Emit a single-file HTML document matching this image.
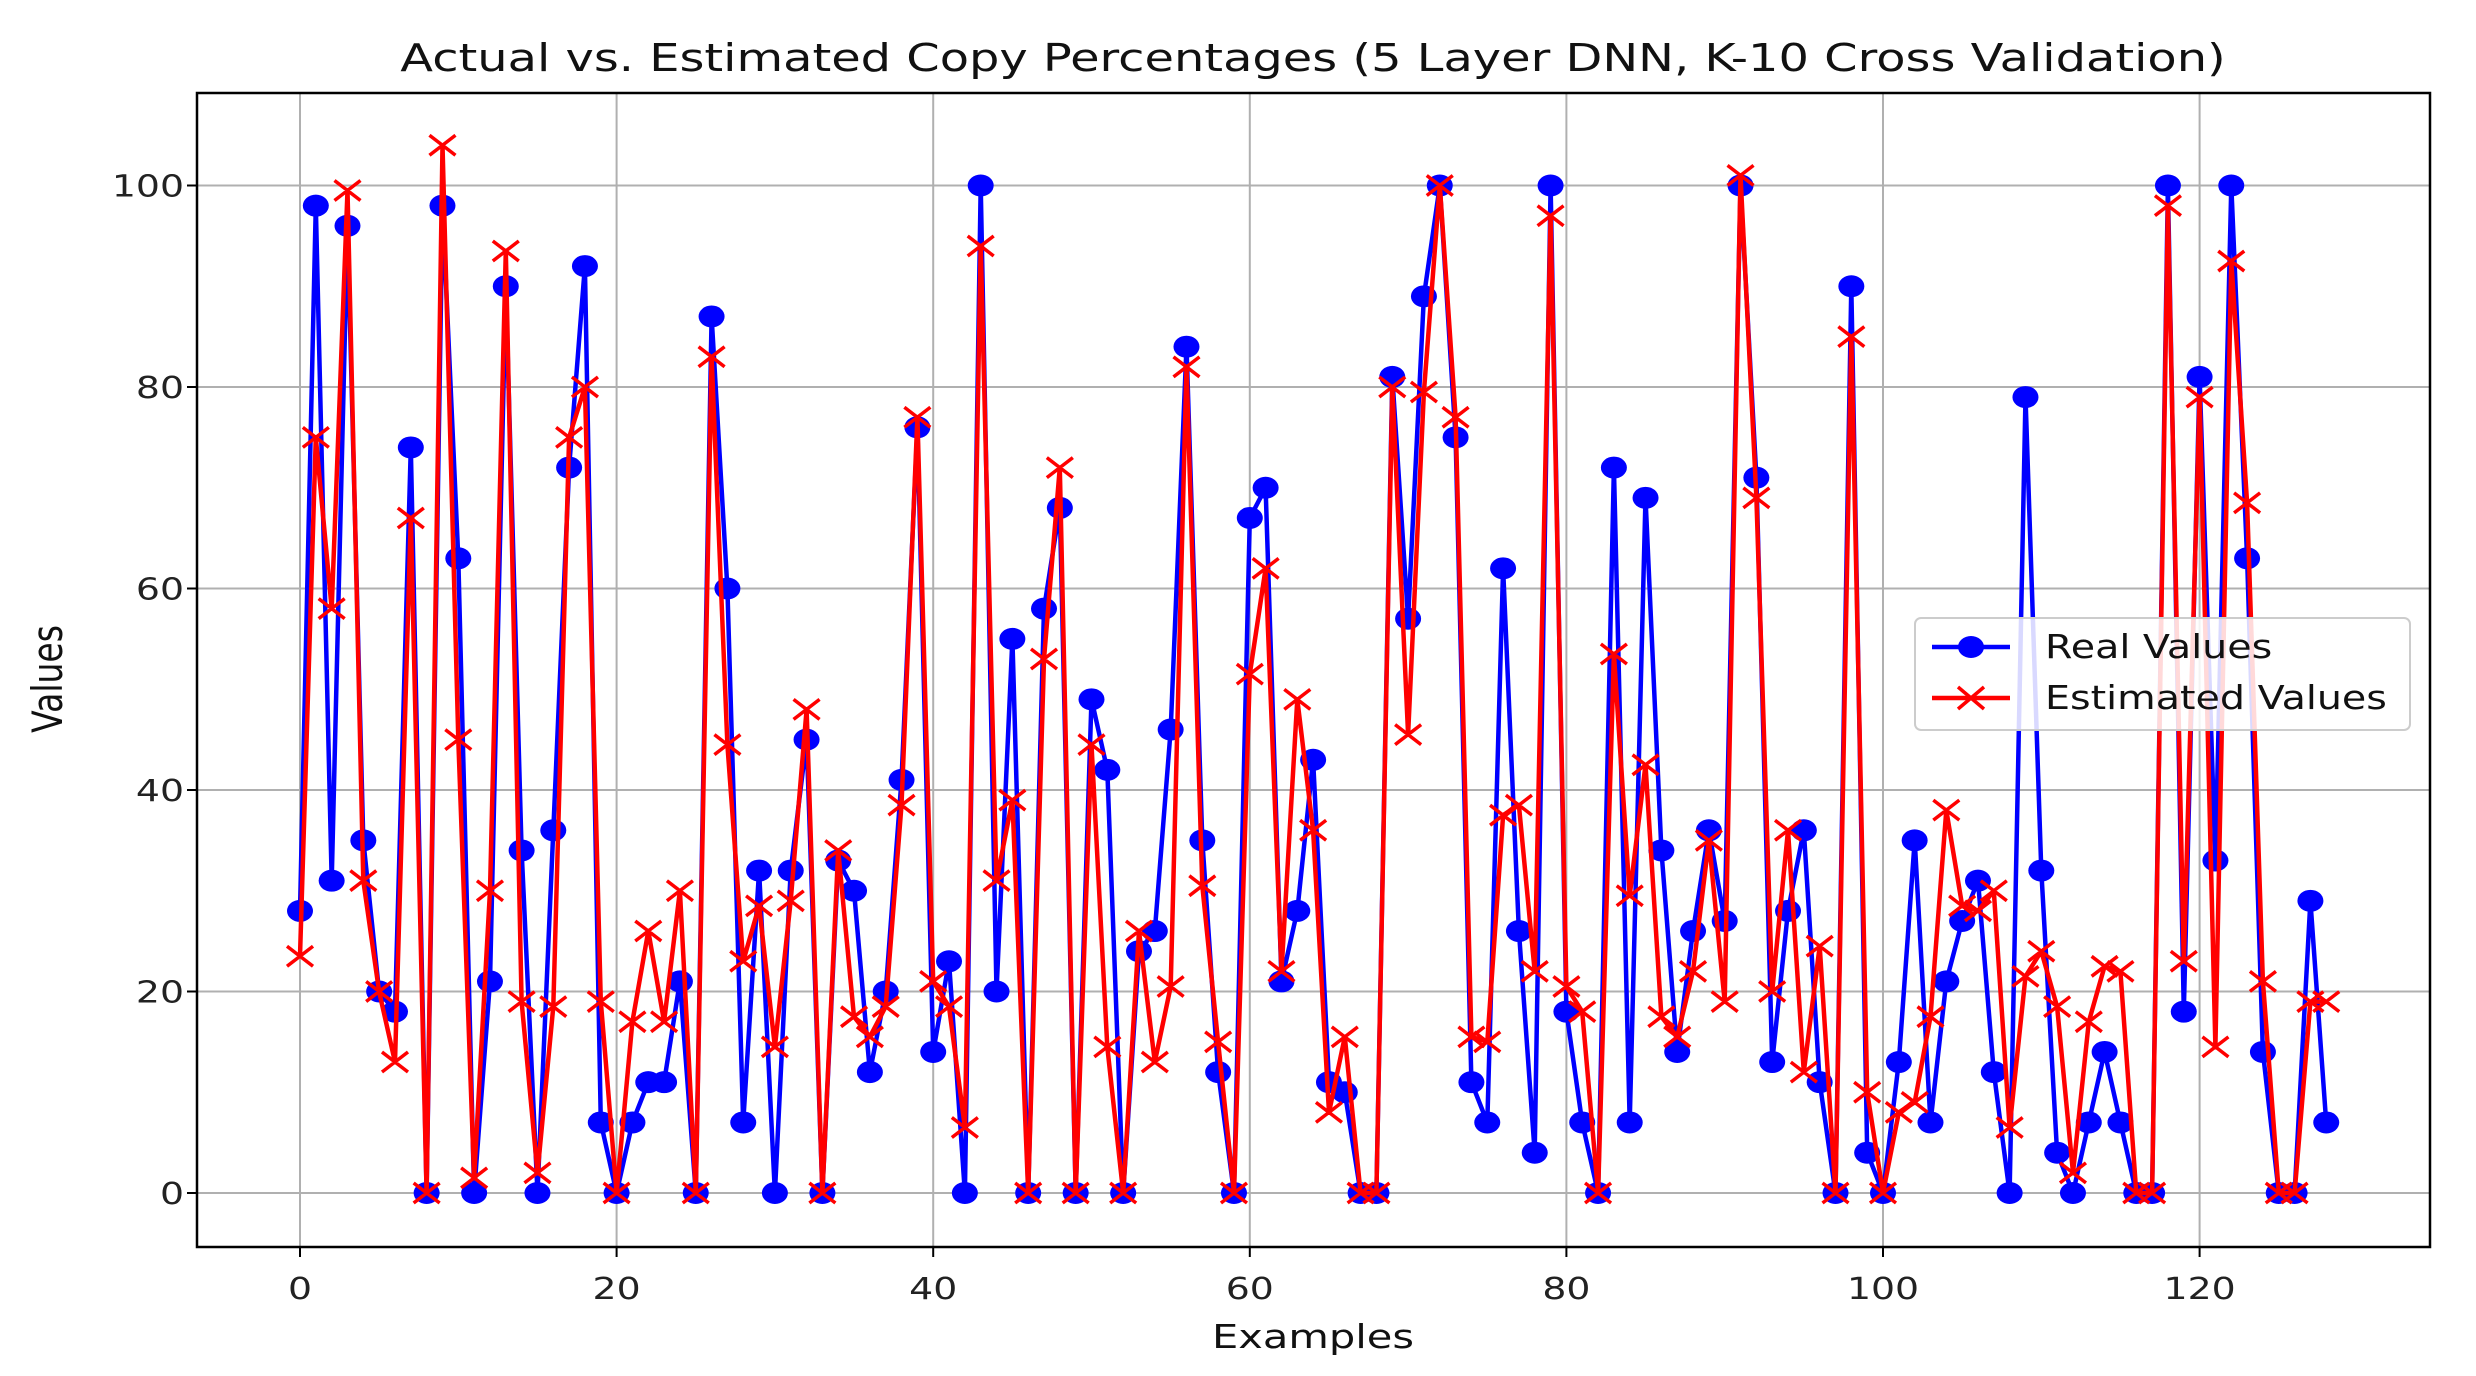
<!DOCTYPE html>
<html><head><meta charset="utf-8"><style>
html,body{margin:0;padding:0;background:#fff;}
svg{display:block;font-family:"DejaVu Sans","Liberation Sans",sans-serif;}
</style></head><body>
<svg id="s" width="2476" height="1376" xmlns="http://www.w3.org/2000/svg">
<rect width="2476" height="1376" fill="#fff"/>
<g id="grid"></g>
<g id="data"></g>
<rect x="197" y="93" width="2233" height="1154" fill="none" stroke="#000" stroke-width="2.5"/>
<g id="ticks" font-size="30" fill="#222"></g>
<text transform="translate(1313,71) scale(1.26,1)" font-size="38" text-anchor="middle" fill="#111">Actual vs. Estimated Copy Percentages (5 Layer DNN, K-10 Cross Validation)</text>
<text transform="translate(1313,1348) scale(1.26,1)" font-size="33" text-anchor="middle" fill="#111">Examples</text>
<text transform="translate(62,679) rotate(-90) scale(1,1.26)" font-size="33" text-anchor="middle" fill="#111">Values</text>
<g>
<rect x="1915" y="618" width="495" height="112" rx="6" fill="#fff" fill-opacity="0.85" stroke="#ccc" stroke-width="2"/>
<line x1="1932" y1="647" x2="2010" y2="647" stroke="#0000ff" stroke-width="4.5"/>
<ellipse cx="1971" cy="647" rx="13" ry="11" fill="#0000ff"/>
<text transform="translate(2045,658) scale(1.2,1)" font-size="33" fill="#111">Real Values</text>
<line x1="1932" y1="698" x2="2010" y2="698" stroke="#ff0000" stroke-width="4.5"/>
<path d="M1958 687 L1984 709 M1984 687 L1958 709" stroke="#ff0000" stroke-width="3.5"/>
<text transform="translate(2045,709) scale(1.2,1)" font-size="33" fill="#111">Estimated Values</text>
</g>
</svg>
<script>
var real=[28,98,31,96,35,20,18,74,0,98,63,0,21,90,34,0,36,72,92,7,0,7,11,11,21,0,87,60,7,32,0,32,45,0,33,30,12,20,41,76,14,23,0,100,20,55,0,58,68,0,49,42,0,24,26,46,84,35,12,0,67,70,21,28,43,11,10,0,0,81,57,89,100,75,11,7,62,26,4,100,18,7,0,72,7,69,34,14,26,36,27,100,71,13,28,36,11,0,90,4,0,13,35,7,21,27,31,12,0,79,32,4,0,7,14,7,0,0,100,18,81,33,100,63,14,0,0,29,7];
var est=[23.5,75,58,99.5,31,20,13,67,0,104,45,1.5,30,93.5,19,2,18.5,75,80,19,0,17,26,17,30,0,83,44.5,23,28.5,14.5,29,48,0,34,17.5,15.5,18.5,38.5,77,21,18.5,6.5,94,31,39,0,53,72,0,44.5,14.5,0,26,13,20.5,82,30.5,15,0,51.5,62,22,49,36,8,15.5,0,0,80,45.5,79.5,100,77,15.5,15,37.5,38.5,22,97,20.5,18,0,53.5,29.5,42.5,17.5,15.5,22,35,19,101,69,20,36,12,24.5,0,85,10,0,8,9,17.5,38,28.5,28,30,6.5,21.5,24,18.5,2,17,22.5,22,0,0,98,23,79,14.5,92.5,68.5,21,0,0,19,19];
var X0=300,DX=15.83,Y0=1193,DY=10.075;
function fx(i){return X0+i*DX} function fy(v){return Y0-v*DY}
var NS="http://www.w3.org/2000/svg";
function el(p,t,a,txt){var e=document.createElementNS(NS,t);for(var k in a)e.setAttribute(k,a[k]);if(txt!==undefined)e.textContent=txt;p.appendChild(e);return e;}
var g=document.getElementById('grid'),tk=document.getElementById('ticks'),d=document.getElementById('data');
for(var v=0;v<=100;v+=20){var y=fy(v);el(g,'line',{x1:197,x2:2430,y1:y,y2:y,stroke:'#b0b0b0','stroke-width':2});
el(tk,'line',{x1:187,x2:197,y1:y,y2:y,stroke:'#000','stroke-width':2});
el(tk,'text',{transform:'translate(184,'+(y+11)+') scale(1.26,1)','text-anchor':'end'},v);}
for(var i=0;i<=120;i+=20){var x=fx(i);el(g,'line',{x1:x,x2:x,y1:93,y2:1247,stroke:'#b0b0b0','stroke-width':2});
el(tk,'line',{x1:x,x2:x,y1:1247,y2:1257,stroke:'#000','stroke-width':2});
el(tk,'text',{transform:'translate('+x+',1299) scale(1.26,1)','text-anchor':'middle'},i);}
var p='';real.forEach(function(v,i){p+=(i?'L':'M')+fx(i).toFixed(1)+' '+fy(v).toFixed(1)});
el(d,'path',{d:p,fill:'none',stroke:'#0000ff','stroke-width':4.5,'stroke-linejoin':'round'});
real.forEach(function(v,i){el(d,'ellipse',{cx:fx(i),cy:fy(v),rx:13,ry:11,fill:'#0000ff'})});
p='';est.forEach(function(v,i){p+=(i?'L':'M')+fx(i).toFixed(1)+' '+fy(v).toFixed(1)});
el(d,'path',{d:p,fill:'none',stroke:'#ff0000','stroke-width':4.5,'stroke-linejoin':'round'});
var q='';est.forEach(function(v,i){var x=fx(i),y=fy(v);q+='M'+(x-13)+' '+(y-10)+'L'+(x+13)+' '+(y+10)+'M'+(x+13)+' '+(y-10)+'L'+(x-13)+' '+(y+10)});
el(d,'path',{d:q,fill:'none',stroke:'#ff0000','stroke-width':3.5});
</script>
</body></html>
